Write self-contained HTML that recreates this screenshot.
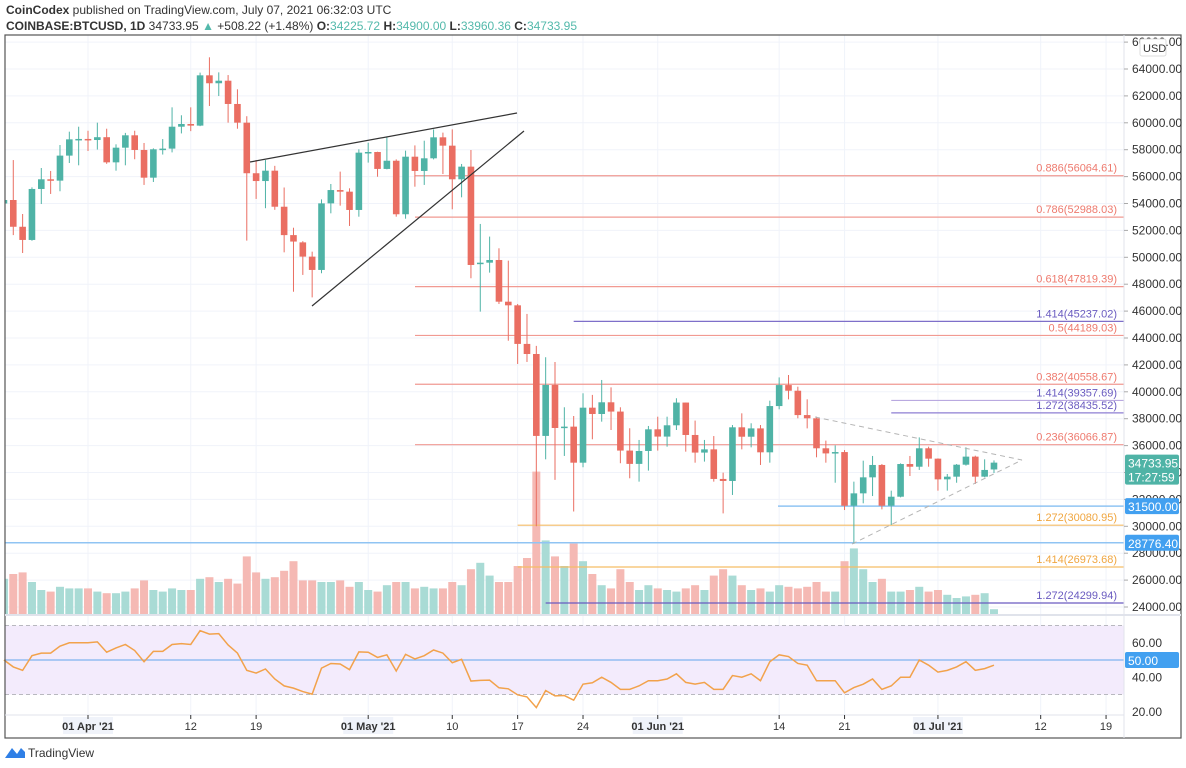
<!DOCTYPE html>
<html><head><meta charset="utf-8">
<style>
html,body{margin:0;padding:0;background:#fff;}
body{width:1186px;height:768px;overflow:hidden;font-family:"Liberation Sans",sans-serif;}
#hdr1{position:absolute;left:6px;top:3px;font-size:12px;color:#333;}
#hdr2{position:absolute;left:6px;top:19px;font-size:12px;color:#333;}
.g{color:#53b9ab;}
svg{position:absolute;left:0;top:0;}
</style></head><body>
<div id="hdr1"><b>CoinCodex</b> published on TradingView.com, July 07, 2021 06:32:03 UTC</div>
<div id="hdr2"><b>COINBASE:BTCUSD, 1D</b> 34733.95 <span class="g">▲</span> +508.22 (+1.48%) <b>O:</b><span class="g">34225.72</span> <b>H:</b><span class="g">34900.00</span> <b>L:</b><span class="g">33960.36</span> <b>C:</b><span class="g">34733.95</span></div>
<svg id="chart" width="1186" height="768" font-family="Liberation Sans, sans-serif"></svg>
<script>
const opens=[54000,54260,52270,51290,55080,55800,55700,57560,58720,
58800,58720,58930,57060,58150,59070,57980,55920,58030,58080,59710,59910,59790,63530,62940,63130,61400,60010,56250,55670,56440,53760,51650,51110,50050,49060,54010,55000,54880,53520,
57780,57830,56570,57180,53200,57480,56420,57360,58920,58300,55800,56740,49500,49600,49800,46700,46430,43560,42810,36720,40510,37310,37410,34730,38820,38350,39220,38530,35630,34640,35600,
37210,36670,37510,39200,36790,35480,35720,33520,33370,37360,36660,37280,35500,38940,40500,40080,38270,38030,35800,35420,35520,31530,32450,33640,34560,31530,32200,34630,34430,35800,
35030,33490,33690,34580,35180,33690,34226];
const highs=[55800,57230,53220,55200,56640,56420,58350,59340,59710,
59410,60010,59560,58400,59250,59410,58500,58100,58790,61150,60560,61150,63730,64870,63750,63550,62490,60490,57230,57230,56800,55190,52200,51200,50420,54310,55450,56370,55130,58030,
58520,57850,58920,57280,57930,58320,58670,59510,59270,59510,56940,57980,52480,51540,50670,49750,46530,45790,43410,42570,42220,38850,38200,39890,39770,40880,40330,38850,37290,36420,37460,
38150,38150,39520,39200,37860,36420,36710,33990,37530,38400,37660,37530,39340,41070,41250,40380,39440,38150,36370,36020,35670,33320,34880,35230,34630,32650,34680,35230,36610,35920,
35050,33890,34630,35870,35250,34980,34900];
const lows=[53100,51650,50320,51230,53960,54710,54910,57010,56840,
57900,58010,56950,56440,56840,57290,55380,55600,57640,57800,59210,59380,59750,61250,61990,60010,59560,51240,54340,53650,53530,50370,47440,48690,47020,48810,53270,53840,52330,53020,
57040,55990,56540,53020,52870,55250,55380,57280,56190,53570,54460,48440,45960,48860,46530,43800,42070,42220,30000,34980,33450,35230,31100,34390,36470,37780,37160,34690,33570,33320,34140,
35630,35920,37160,35550,34730,34810,33320,30960,32330,35720,35870,34560,34730,38700,39440,38030,37280,35130,34730,33240,31210,28690,31710,32250,31260,30100,32150,33740,34190,34430,
32650,32650,33240,34510,33150,33640,33960];
const closes=[54260,52270,51290,55080,55800,55700,57560,58770,58800,
58700,58930,57060,58150,59070,57980,55920,58030,58080,59710,59910,59790,63530,62940,63130,61400,60010,56250,55670,56440,53760,51650,51170,50050,49060,54010,55000,54880,53520,57780,
57830,56570,57180,53200,57480,56420,57360,58920,58300,55800,56740,49430,49600,49800,46700,46430,43560,42810,36720,40510,37310,37410,34730,38820,38350,39220,38530,35630,34640,35600,37210,
36670,37510,39200,36790,35480,35720,33520,33370,37360,36660,37280,35500,38940,40500,40080,38270,38030,35800,35420,35520,31530,32450,33640,34560,31530,32200,34630,34430,35800,35030,
33490,33690,34580,35180,33690,34190,34734];
const volumes=[22,25,26,20,15,14,17,16,16,
16,14,13,13,14,16,21,15,14,16,15,15,22,23,20,22,19,36,26,22,23,27,33,21,21,20,20,21,17,20,
15,14,18,20,20,16,17,16,16,20,18,28,32,24,20,20,30,35,89,46,36,30,44,33,25,18,16,28,20,15,18,
16,15,14,16,18,15,24,28,24,18,15,16,14,18,17,16,17,20,14,14,33,41,28,20,22,14,14,15,17,14,
15,12,10,11,12,13,3];
const rsi=[50,46,44,52.5,54,54,58,60,60,
60,60.5,54.5,57,59,55.5,49,55,55,59,59.5,59,67,65,65.3,58.7,54,44,42.4,44.8,39,35,33.7,31.7,30.2,45.3,48,47.7,44.4,54.7,
54.5,51.5,53,43.6,53.3,50.6,52.5,55.8,54,48.4,50.4,37.8,38.2,38.3,33.9,33.3,29.8,28.6,22.4,32.3,29.2,29.4,26.7,36,36.8,40,37,33,33,35,38,
38,39,42,37,36,37,33,33,41,40,42,38,49,53,52,48,47,38,38,38,31,34,36,39,33,35,40,40,50,47,
43,44,46,49,44,45,47];
const priceTicks=[24000,26000,28000,30000,32000,34000,36000,38000,40000,42000,44000,46000,48000,50000,52000,54000,56000,58000,60000,62000,64000,66000];
const rsiTicks=[20,40,60];
const dateIdx=[9,20,27,39,48,55,62,70,83,90,100,111,118];
const dateLabels=["01 Apr '21","12","19","01 May '21","10","17","24","01 Jun '21","14","21","01 Jul '21","12","19"];
const fibPrices=[56064.61,52988.03,47819.39,44189.03,40558.67,36066.87];
const fibLabels=["0.886(56064.61)","0.786(52988.03)","0.618(47819.39)","0.5(44189.03)","0.382(40558.67)","0.236(36066.87)"];
const extPrices=[45237.02,39357.69,38435.52,30080.95,26973.68,24299.94];
const extLabels=["1.414(45237.02)","1.414(39357.69)","1.272(38435.52)","1.272(30080.95)","1.414(26973.68)","1.272(24299.94)"];
const extStartIdx=[61,95,95,55,55,58];
const extColors=["#7e6fc9","#b9a9e0","#8e7fd3","#f5bd66","#f5bd66","#6a5bc0"];

const NS="http://www.w3.org/2000/svg";
const svg=document.getElementById('chart');
function el(tag,attrs,parent){const e=document.createElementNS(NS,tag);for(const k in attrs)e.setAttribute(k,attrs[k]);(parent||svg).appendChild(e);return e;}
const X=i=>88+(i-9)*9.34;
const Y=p=>69+(64000-p)*0.01345;
const RY=r=>660-(r-50)*1.725;
const VY=v=>614-v*1.6;
const L=5,R=1124,T=35,PB=615,RB=715,B=738;

priceTicks.forEach(p=>{const g=el('line',{x1:L,x2:R,y1:Y(p),y2:Y(p),stroke:'#f0f3fa','stroke-width':1});

});
dateIdx.forEach(i=>{const g=el('line',{x1:X(i),x2:X(i),y1:T,y2:RB,stroke:'#f0f3fa','stroke-width':1});

});
[40,60].forEach(r=>{el('line',{x1:L,x2:R,y1:RY(r),y2:RY(r),stroke:'#f0f3fa'});});

const band=el('rect',{x:L,y:RY(70),width:R-L,height:RY(30)-RY(70),fill:'#f3ebfc'});


[70,30].forEach(r=>{el('line',{x1:L,x2:R,y1:RY(r),y2:RY(r),stroke:'#b8b8bf','stroke-dasharray':'4,3'});});

const clipV=el('clipPath',{id:'pc'});el('rect',{x:L,y:T,width:R-L,height:PB-T},clipV);
const gVol=el('g',{'clip-path':'url(#pc)'});


volumes.forEach((v,i)=>{const up=closes[i]>=opens[i];
const b=el('rect',{x:X(i)-4,y:VY(v),width:8,height:614-VY(v),fill:up?'#a9dbd5':'#f5b9b4'},gVol);

});

fibPrices.forEach((p,i)=>{const y=Y(p);
const ln=el('line',{x1:415,x2:R,y1:y,y2:y,stroke:'#f19a92','stroke-width':1.2});


const t=el('text',{x:1117,y:y-4,'text-anchor':'end','font-size':11,fill:'#ee7a6e'});t.textContent=fibLabels[i];

});
extPrices.forEach((p,i)=>{const y=Y(p);
const ln=el('line',{x1:X(extStartIdx[i]),x2:R,y1:y,y2:y,stroke:extColors[i],'stroke-width':1.2});


const t=el('text',{x:1117,y:y-4,'text-anchor':'end','font-size':11,fill:extColors[i]==='#f5bd66'?'#f0a640':'#6a5bc0'});t.textContent=extLabels[i];

});
const s1=el('line',{x1:778,x2:R,y1:Y(31500),y2:Y(31500),stroke:'#90c4f3','stroke-width':1.5});


const s2=el('line',{x1:L,x2:R,y1:Y(28776.4),y2:Y(28776.4),stroke:'#90c4f3','stroke-width':1.5});



const gC=el('g',{'clip-path':'url(#pc)'});


opens.forEach((o,i)=>{const c=closes[i],up=c>=o,col=up?'#4fb3a6':'#ea6e62',x=X(i);
const g=el('g',{},gC);


el('line',{x1:x,x2:x,y1:Y(highs[i]),y2:Y(lows[i]),stroke:col,'stroke-width':1},g);
const y1=Y(Math.max(o,c)),y2=Y(Math.min(o,c));
el('rect',{x:x-3.3,y:y1,width:6.6,height:Math.max(1.5,y2-y1),fill:col},g);});

const tl1=el('line',{x1:250,y1:162,x2:517,y2:113,stroke:'#333','stroke-width':1.2});


const tl2=el('line',{x1:312,y1:306,x2:524,y2:131,stroke:'#333','stroke-width':1.2});


const tr1=el('line',{x1:815,y1:417,x2:1022,y2:460,stroke:'#b5b5b5','stroke-width':1,'stroke-dasharray':'5,4'});


const tr2=el('line',{x1:852,y1:544,x2:1022,y2:460,stroke:'#b5b5b5','stroke-width':1,'stroke-dasharray':'5,4'});



const r50=el('line',{x1:L,x2:R,y1:RY(50),y2:RY(50),stroke:'#7fb2ef','stroke-width':1.2});


const rl=el('polyline',{points:rsi.map((r,i)=>X(i)+','+RY(r)).join(' '),fill:'none',stroke:'#f2a24b','stroke-width':1.5});



el('rect',{x:L,y:T,width:1181-L,height:B-T,fill:'none',stroke:'#555','stroke-width':1.2});
el('line',{x1:R,x2:R,y1:T,y2:B,stroke:'#e0e3eb'});
el('line',{x1:L,x2:1181,y1:PB,y2:PB,stroke:'#e0e3eb','stroke-width':2});
el('line',{x1:L,x2:R,y1:RB,y2:RB,stroke:'#e0e3eb'});

priceTicks.forEach(p=>{const t=el('text',{x:1132,y:Y(p)+4,'font-size':12,fill:'#333'});t.textContent=p.toFixed(2);


el('line',{x1:R,x2:R+4,y1:Y(p),y2:Y(p),stroke:'#aaa'});});
const usd=el('rect',{x:1140,y:39,width:26,height:17,fill:'#fff',stroke:'#ddd',rx:2});


const ut=el('text',{x:1143,y:52,'font-size':11,fill:'#333'});ut.textContent='USD';


rsiTicks.forEach(r=>{const t=el('text',{x:1132,y:RY(r)+4,'font-size':12,fill:'#333'});t.textContent=r.toFixed(2);

});
function tag(y,h,bg,lines,name){const g=el('g',{});


el('rect',{x:R+1,y:y-h/2,width:54,height:h,fill:bg,rx:2},g);
lines.forEach((s,k)=>{const t=el('text',{x:R+4,y:y-h/2+13+k*14,'font-size':12,fill:'#fff'},g);t.textContent=s;});}
tag(Y(34733.95)+7,30,'#4fb3a6',['34733.95','17:27:59'],'last-price-tag');
tag(Y(31500),16,'#42a0f0',['31500.00'],'support-31500-tag');
tag(Y(28776.4),16,'#42a0f0',['28776.40'],'support-28776-tag');
tag(RY(50),16,'#42a0f0',['50.00'],'rsi-50-tag');

dateIdx.forEach((i,k)=>{const s=dateLabels[k],big=s.length>2,x=X(i);
if(big){el('rect',{x:x-25,y:717,width:50,height:17,fill:'#f0f3fa'});}
el('line',{x1:x,x2:x,y1:RB,y2:RB+4,stroke:'#333'});
const t=el('text',{x:x,y:730,'text-anchor':'middle','font-size':11,fill:'#333','font-weight':big?'bold':'normal'});t.textContent=s;

});

const lg=el('g',{});


el('path',{d:'M5 758 L12 748 L17 754 L21 748 L25 752 L25 758 Z',fill:'#2f7fe6'},lg);
const lt=el('text',{x:28,y:757,'font-size':12,fill:'#333'},lg);lt.textContent='TradingView';
</script>
</body></html>
